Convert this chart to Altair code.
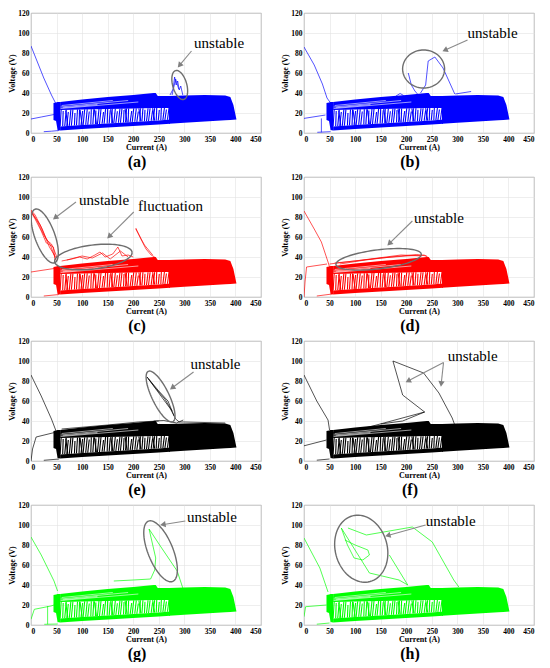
import math
import numpy as np
import pandas as pd
import altair as alt

# ---------------- shared dense band ----------------
BAND_LEFT_I = [44, 49, 52, 57]
BAND_LEFT_LO = [13, 12, 3, 2.5]
BAND_LEFT_HI = [30, 30.5, 31, 31]

BAND_UP_I = [57, 100, 150, 200, 240, 244, 248, 272]
BAND_UP_LO = [23, 23.5, 24, 24.5, 25, 25, 25, 25]
BAND_UP_HI = [31, 33.5, 36, 38, 40, 40, 37, 37]

BAND_RIGHT_I = [270, 300, 340, 380, 390, 396, 402]
BAND_RIGHT_LO = [9.3, 10.3, 11.6, 12.7, 13, 13.2, 13.4]
BAND_RIGHT_HI = [37, 37.5, 38, 37.5, 36, 28, 13.5]

BAND_LOW_I = [57, 100, 150, 200, 250, 272]
BAND_LOW_LO = [2.5, 4, 5.5, 7, 8.6, 9.3]
BAND_LOW_HI = [6.5, 8, 9.5, 11, 12.6, 13.5]

# near-vertical switching streaks between the lower strip and the upper band:
# (I bottom, V bottom, I top, V top)
STREAKS = [
    (57, 6.6, 59, 23), (62, 6.8, 63, 22), (66, 6.9, 69, 23.2), (70, 7.0, 73, 21),
    (75, 7.1, 78, 23.4), (79, 7.2, 82, 23.4), (85, 7.5, 86, 20), (89, 7.6, 91, 23.5),
    (94, 7.8, 95, 23.5), (98, 7.9, 101, 22), (102, 8.0, 105, 23.6), (107, 8.2, 110, 23.7),
    (111, 8.2, 114, 21.5), (117, 8.5, 118, 23.8), (121, 8.6, 123, 23.8), (126, 8.8, 127, 22.5),
    (130, 8.9, 133, 24), (134, 9.0, 137, 24), (139, 9.2, 142, 21), (143, 9.2, 146, 24.1),
    (149, 9.5, 150, 24.1), (153, 9.6, 155, 22.8), (158, 9.8, 159, 24.2), (162, 9.9, 165, 24.2),
    (166, 10.0, 169, 21.8), (171, 10.2, 174, 24.3), (175, 10.3, 178, 24.4), (181, 10.5, 182, 23),
    (185, 10.6, 187, 24.5), (190, 10.7, 191, 24.5), (194, 10.9, 197, 22), (198, 11.0, 201, 24.6),
    (203, 11.2, 206, 24.6), (207, 11.2, 210, 21.5), (213, 11.5, 214, 24.7), (217, 11.6, 219, 24.7),
    (222, 11.8, 223, 23.2), (226, 11.9, 229, 24.8), (230, 12.0, 233, 24.8), (235, 12.2, 238, 22.6),
    (239, 12.2, 242, 24.9), (245, 12.5, 246, 25), (249, 12.6, 251, 23), (254, 12.8, 255, 25),
    (258, 12.9, 261, 25), (262, 13.0, 265, 23.5), (267, 13.2, 270, 25),
    (72, 7.0, 68, 22.5), (100, 8.0, 96, 23), (128, 8.9, 124, 23.5), (160, 9.9, 156, 24),
    (188, 10.7, 184, 24.3), (215, 11.6, 211, 24.5), (242, 12.4, 238, 24.8),
]

WHITE_LINES = [
    [(58, 24.5), (210, 31)],
    [(58, 26), (190, 32.5)],
    [(60, 27.5), (160, 32.5)],
    [(62, 25.2), (130, 28.5)],
]

# ---------------- per-panel traces ----------------
A_TRACES = [
    [(0, 87), (25, 55), (40, 38), (48, 30)],
    [(0, 14), (20, 16), (45, 18.5)],
    [(25, 1.3), (40, 1.8), (55, 2.5)],
    [(272, 38), (278, 44), (281, 56), (284, 48), (287, 52), (290, 43), (293, 47), (297, 38)],
    [(276, 38), (283, 54), (289, 44)],
]
B_TRACES = [
    [(0, 86), (20, 68), (36, 49), (45, 35), (52, 30)],
    [(0, 14.6), (42, 18)],
    [(34, 14.6), (34, 0.7)],
    [(26, 0.7), (52, 1.3)],
    [(204, 60), (210, 48), (217, 42), (222, 39)],
    [(228, 40), (238, 48), (243, 72), (256, 76), (272, 65), (295, 39)],
    [(296, 39), (327, 41.5)],
    [(180, 37), (188, 39.5), (195, 37.5)],
]
C_TRACES = [
    [(0, 87), (8, 82), (15, 75), (22, 68), (30, 58), (38, 52), (45, 42), (50, 36)],
    [(0, 85), (12, 76), (25, 62), (33, 56), (40, 53), (46, 46), (52, 38)],
    [(0, 86), (18, 72), (28, 60), (36, 50), (42, 45), (48, 40)],
    [(2, 84), (20, 66), (30, 54), (44, 50), (47, 37)],
    [(0, 25), (45, 28.5)],
    [(25, 1), (55, 2.5)],
    [(60, 36), (80, 38), (95, 40), (110, 38), (125, 42), (135, 45), (145, 40), (160, 43),
     (170, 50), (178, 41), (190, 42), (200, 40)],
    [(70, 37), (100, 41), (120, 39), (140, 44), (155, 38), (175, 46), (190, 40)],
    [(205, 69), (215, 58), (225, 48), (235, 42), (242, 40)],
    [(205, 68), (222, 52), (238, 42)],
]
D_TRACES = [
    [(0, 86), (20, 68), (34, 55), (47, 35), (50, 30)],
    [(0, 0), (2, 15), (5, 30), (45, 33)],
    [(25, 1), (55, 3)],
    [(60, 34), (100, 36), (150, 39), (200, 41), (235, 42), (242, 40)],
    [(70, 33), (120, 37), (170, 40), (220, 42.5), (240, 41)],
    [(50, 33), (130, 38), (190, 42), (230, 41)],
]
E_TRACES = [
    [(0, 86), (20, 65), (40, 42), (52, 26)],
    [(0, 0), (3, 12), (10, 24), (46, 28.5)],
    [(25, 0.7), (55, 2)],
    [(227, 84), (273, 52), (283, 42), (290, 39), (299, 39), (380, 38)],
    [(227, 84), (250, 70), (268, 60), (280, 45)],
    [(230, 82), (245, 72), (262, 62), (276, 50)],
    [(240, 40), (260, 40.5), (285, 38), (298, 41)],
    [(60, 32), (150, 36), (210, 39), (250, 40)],
]
F_TRACES = [
    [(0, 86), (25, 60), (47, 41), (50, 31)],
    [(0, 15.2), (44, 21)],
    [(25, 0.8), (50, 2)],
    [(150, 37), (193, 40), (236, 49), (193, 66), (174, 100), (234, 88), (264, 68),
     (290, 43), (295, 36)],
    [(50, 28), (120, 33), (236, 49)],
]
G_TRACES = [
    [(0, 88), (20, 70), (45, 44), (52, 34)],
    [(0, 5.7), (6.5, 15.7), (39, 19), (45, 20)],
    [(32.5, 19), (32.5, 0.7)],
    [(26, 0.7), (52, 1)],
    [(162, 44), (200, 45), (234, 46), (242, 55), (244, 67), (231, 96), (253, 79),
     (286, 54), (297, 37)],
]
H_TRACES = [
    [(0, 87), (31, 57), (47, 33)],
    [(0, 8.3), (3.2, 18.3), (44, 20)],
    [(25, 0.8), (50, 2)],
    [(73, 97), (128, 52), (186, 45), (203, 40)],
    [(86, 97), (122, 90), (212, 98), (251, 83), (293, 45), (303, 38)],
    [(80, 85), (100, 80), (125, 75), (128, 70), (115, 65), (98, 67), (85, 80), (73, 97)],
    [(167, 70), (203, 40)],
]

# annotations: ellipses (centre I, centre V, semi-axis px, semi-axis px, angle deg)
A_ELL = [(291, 48, 15, 7, 106)]
B_ELL = [(234, 64, 21, 19, 0)]
C_ELL = [(27, 61, 28.5, 10, 110), (122, 40, 39, 12, 7)]
D_ELL = [(146, 37.7, 43, 9.5, 7)]
E_ELL = [(253.5, 64.5, 28, 8.5, 116)]
F_ELL = []
G_ELL = [(253.5, 73.7, 32.5, 12.5, 112)]
H_ELL = [(112, 76.3, 34, 26, 105)]

# arrows (from I, from V, tip I, tip V)
A_ARR = [(314, 82, 288, 66)]
B_ARR = [(320, 93, 272, 82)]
C_ARR = [(88, 95, 44, 78), (201, 85, 150, 59)]
D_ARR = [(212, 76, 164, 52)]
E_ARR = [(318, 89, 273, 72)]
F_ARR = [(273, 98.5, 200, 79), (273, 98.5, 268, 75)]
G_ARR = [(302, 104, 254, 100)]
H_ARR = [(238, 100, 160, 89)]

# labels
A_TXT = [(368, 90, "unstable")]
B_TXT = [(369, 100, "unstable")]
C_TXT = [(143, 97, "unstable"), (273, 91, "fluctuation")]
D_TXT = [(264, 79, "unstable")]
E_TXT = [(361, 97.5, "unstable")]
F_TXT = [(330, 105, "unstable")]
G_TXT = [(354, 108, "unstable")]
H_TXT = [(287, 104, "unstable")]

PANELS = [
    ("(a)", "#0000ff", A_TRACES, A_ELL, A_ARR, A_TXT),
    ("(b)", "#0000ff", B_TRACES, B_ELL, B_ARR, B_TXT),
    ("(c)", "#ff0000", C_TRACES, C_ELL, C_ARR, C_TXT),
    ("(d)", "#ff0000", D_TRACES, D_ELL, D_ARR, D_TXT),
    ("(e)", "#000000", E_TRACES, E_ELL, E_ARR, E_TXT),
    ("(f)", "#000000", F_TRACES, F_ELL, F_ARR, F_TXT),
    ("(g)", "#00ff00", G_TRACES, G_ELL, G_ARR, G_TXT),
    ("(h)", "#00ff00", H_TRACES, H_ELL, H_ARR, H_TXT),
]

W, H = 230, 120
XMAX, YMAX = 450, 120
XS = XMAX / W  # data units per px
YS = YMAX / H

X_TICKS = list(range(0, 451, 50))
Y_TICKS = list(range(0, 121, 20))


def xenc(field="I"):
    return alt.X(f"{field}:Q", scale=alt.Scale(domain=[0, XMAX], nice=False, zero=False),
                 axis=alt.Axis(values=X_TICKS, title="Current (A)"))


def yenc(field="V"):
    return alt.Y(f"{field}:Q", scale=alt.Scale(domain=[0, YMAX], nice=False, zero=False),
                 axis=alt.Axis(values=Y_TICKS, title="Voltage (V)"))


def lines_df(traces):
    rows = []
    for t, tr in enumerate(traces):
        for k, (i, v) in enumerate(tr):
            rows.append({"tid": t, "k": k, "I": i, "V": v})
    return pd.DataFrame(rows)


band_rows = []
for seg, (xs, lo, hi) in enumerate([(BAND_LEFT_I, BAND_LEFT_LO, BAND_LEFT_HI),
                                    (BAND_UP_I, BAND_UP_LO, BAND_UP_HI),
                                    (BAND_RIGHT_I, BAND_RIGHT_LO, BAND_RIGHT_HI),
                                    (BAND_LOW_I, BAND_LOW_LO, BAND_LOW_HI)]):
    for i, a, b in zip(xs, lo, hi):
        band_rows.append({"seg": seg, "I": i, "lo": a, "hi": b})
band_df = pd.DataFrame(band_rows)
streak_df = pd.DataFrame(STREAKS, columns=["I", "V", "I2", "V2"])
white_df = lines_df(WHITE_LINES)


def ellipse_df(ells):
    rows = []
    phi = np.linspace(0, 2 * math.pi, 81)
    for e, (cx, cy, a, b, ang) in enumerate(ells):
        th = math.radians(ang)
        for k, p in enumerate(phi):
            px = a * math.cos(p) * math.cos(th) - b * math.sin(p) * math.sin(th)
            py = a * math.cos(p) * math.sin(th) + b * math.sin(p) * math.cos(th)
            rows.append({"tid": e, "k": k, "I": cx + px * XS, "V": cy + py * YS})
    return pd.DataFrame(rows)


def arrow_dfs(arrs):
    shafts, heads = [], []
    for n, (x0, y0, x1, y1) in enumerate(arrs):
        dxp = (x1 - x0) / XS
        dyp = (y1 - y0) / YS
        L = math.hypot(dxp, dyp)
        ux, uy = dxp / L, dyp / L
        hx = x1 - 3.0 * ux * XS
        hy = y1 - 3.0 * uy * YS
        shafts.append({"tid": n, "k": 0, "I": x0, "V": y0})
        shafts.append({"tid": n, "k": 1, "I": hx, "V": hy})
        ang = math.degrees(math.atan2(ux, uy)) % 360
        heads.append({"I": hx, "V": hy, "ang": ang})
    return pd.DataFrame(shafts), pd.DataFrame(heads)


def panel(label, color, traces, ells, arrs, txts):
    layers = []
    layers.append(alt.Chart(band_df).mark_area(color=color, opacity=1, clip=True).encode(
        x=xenc(), y=yenc("lo"), y2="hi:Q", detail="seg:N"))
    layers.append(alt.Chart(streak_df).mark_rule(color=color, strokeWidth=1.1, clip=True).encode(
        x=xenc(), y=yenc(), x2="I2:Q", y2="V2:Q"))
    layers.append(alt.Chart(white_df).mark_line(color="white", strokeWidth=0.7, opacity=0.85,
                                                clip=True).encode(
        x=xenc(), y=yenc(), detail="tid:N", order="k:Q"))
    layers.append(alt.Chart(lines_df(traces)).mark_line(color=color, strokeWidth=0.8,
                                                        opacity=0.85, clip=True).encode(
        x=xenc(), y=yenc(), detail="tid:N", order="k:Q"))
    if ells:
        layers.append(alt.Chart(ellipse_df(ells)).mark_line(color="#6e6e6e", strokeWidth=1.4,
                                                            clip=True).encode(
            x=xenc(), y=yenc(), detail="tid:N", order="k:Q"))
    sh, hd = arrow_dfs(arrs)
    layers.append(alt.Chart(sh).mark_line(color="#8a8a8a", strokeWidth=1.1).encode(
        x=xenc(), y=yenc(), detail="tid:N", order="k:Q"))
    layers.append(alt.Chart(hd).mark_point(shape="triangle", filled=True, color="#808080",
                                           opacity=1, size=40).encode(
        x=xenc(), y=yenc(), angle=alt.Angle("ang:Q", scale=None)))
    tdf = pd.DataFrame([{"I": a, "V": b, "t": c} for a, b, c in txts])
    layers.append(alt.Chart(tdf).mark_text(font="Liberation Serif", fontSize=15, color="black",
                                           align="center", baseline="middle").encode(
        x=xenc(), y=yenc(), text="t:N"))
    return alt.layer(*layers).properties(
        width=W, height=H,
        title=alt.TitleParams(text=label, orient="bottom", font="Liberation Serif",
                              fontSize=16, fontWeight="bold", color="black", offset=2, dx=-9))


charts = [panel(*p) for p in PANELS]
rows = [alt.hconcat(charts[i], charts[i + 1], spacing=19) for i in range(0, 8, 2)]
chart = alt.vconcat(*rows, spacing=2).properties(padding=0).configure_view(
    stroke="#8a8a8a", strokeWidth=0.8
).configure_axis(
    labelFont="Liberation Serif", labelFontWeight="bold", labelFontSize=7.5,
    titleFont="Liberation Serif", titleFontWeight="bold", titleFontSize=8,
    labelColor="black", titleColor="black", gridColor="#e2e2e2", gridWidth=0.6,
    domain=False, ticks=False, labelPadding=2, titlePadding=1
)

chart.save("out.html", embed_options={"renderer": "svg", "actions": False})
